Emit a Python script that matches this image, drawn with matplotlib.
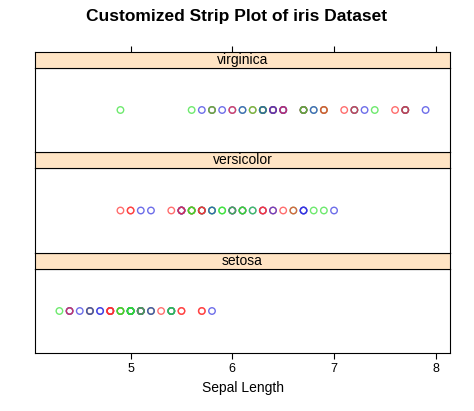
import matplotlib
matplotlib.use("Agg")
import matplotlib.pyplot as plt

species = ["setosa", "versicolor", "virginica"]
setosa = [5.1,4.9,4.7,4.6,5.0,5.4,4.6,5.0,4.4,4.9,5.4,4.8,4.8,4.3,5.8,5.7,5.4,5.1,5.7,5.1,5.4,5.1,4.6,5.1,4.8,5.0,5.0,5.2,5.2,4.7,4.8,5.4,5.2,5.5,4.9,5.0,5.5,4.9,4.4,5.1,5.0,4.5,4.4,5.0,5.1,4.8,5.1,4.6,5.3,5.0]
versicolor = [7.0,6.4,6.9,5.5,6.5,5.7,6.3,4.9,6.6,5.2,5.0,5.9,6.0,6.1,5.6,6.7,5.6,5.8,6.2,5.6,5.9,6.1,6.3,6.1,6.4,6.6,6.8,6.7,6.0,5.7,5.5,5.5,5.8,6.0,5.4,6.0,6.7,6.3,5.6,5.5,5.5,6.1,5.8,5.0,5.6,5.7,5.7,6.2,5.1,5.7]
virginica = [6.3,5.8,7.1,6.3,6.5,7.6,4.9,7.3,6.7,7.2,6.5,6.4,6.8,5.7,5.8,6.4,6.5,7.7,7.7,6.0,6.9,5.6,7.7,6.3,6.7,7.2,6.2,6.1,6.4,7.2,7.4,7.9,6.4,6.3,6.1,7.7,6.3,6.4,6.0,6.9,6.7,6.9,5.8,6.8,6.7,6.7,6.3,6.5,6.2,5.9]
data = {"setosa": setosa, "versicolor": versicolor, "virginica": virginica}
palette = ["#FF3030", "#30E030", "#3030E0"]
xticks = [5, 6, 7, 8]

W, H = 474, 411
fig = plt.figure(figsize=(W/100, H/100), dpi=100)
fig.text(0.5, 1 - 17/H, "Customized Strip Plot of iris Dataset", ha="center", va="center",
         fontsize=12.5, fontweight="bold", family="Liberation Sans")
left, right = 35, 450
panels = {"virginica": (52, 152), "versicolor": (152, 253), "setosa": (253, 353)}
strip_h = 16
xlim = (4.06, 8.14)
idx = 0
for sp in species:
    top, bot = panels[sp]
    ax = fig.add_axes([left/W, 1 - bot/H, (right-left)/W, (bot-top-strip_h)/H])
    vals = data[sp]
    for j, v in enumerate(vals):
        ax.scatter(v, 0.5, s=22, facecolors="none", edgecolors=palette[(idx + j) % 3],
                   linewidths=1.0, alpha=0.7)
    idx += len(vals)
    ax.set_xlim(*xlim); ax.set_ylim(0, 1)
    ax.set_yticks([])
    ax.set_xticks(xticks)
    if sp == "setosa":
        ax.tick_params(axis="x", labelsize=9, length=4, direction="out")
        ax.set_xlabel("Sepal Length", fontsize=10, family="Liberation Sans")
        for lbl in ax.get_xticklabels():
            lbl.set_family("Liberation Sans")
    else:
        ax.tick_params(axis="x", labelbottom=False, length=0)
    for s in ax.spines.values():
        s.set_linewidth(0.8)
    sax = fig.add_axes([left/W, 1 - (top+strip_h)/H, (right-left)/W, strip_h/H])
    sax.set_facecolor("#FFE4C4")
    sax.set_xticks([]); sax.set_yticks([])
    sax.set_xlim(*xlim)
    if sp == "virginica":
        sax.xaxis.set_ticks_position("top")
        sax.set_xticks(xticks)
        sax.tick_params(axis="x", labeltop=False, length=4, direction="out")
    sax.text(0.5, 0.5, sp, transform=sax.transAxes, ha="center", va="center",
             fontsize=10, family="Liberation Sans")
    for s in sax.spines.values():
        s.set_linewidth(0.8)
fig.savefig("out.png", dpi=100)
